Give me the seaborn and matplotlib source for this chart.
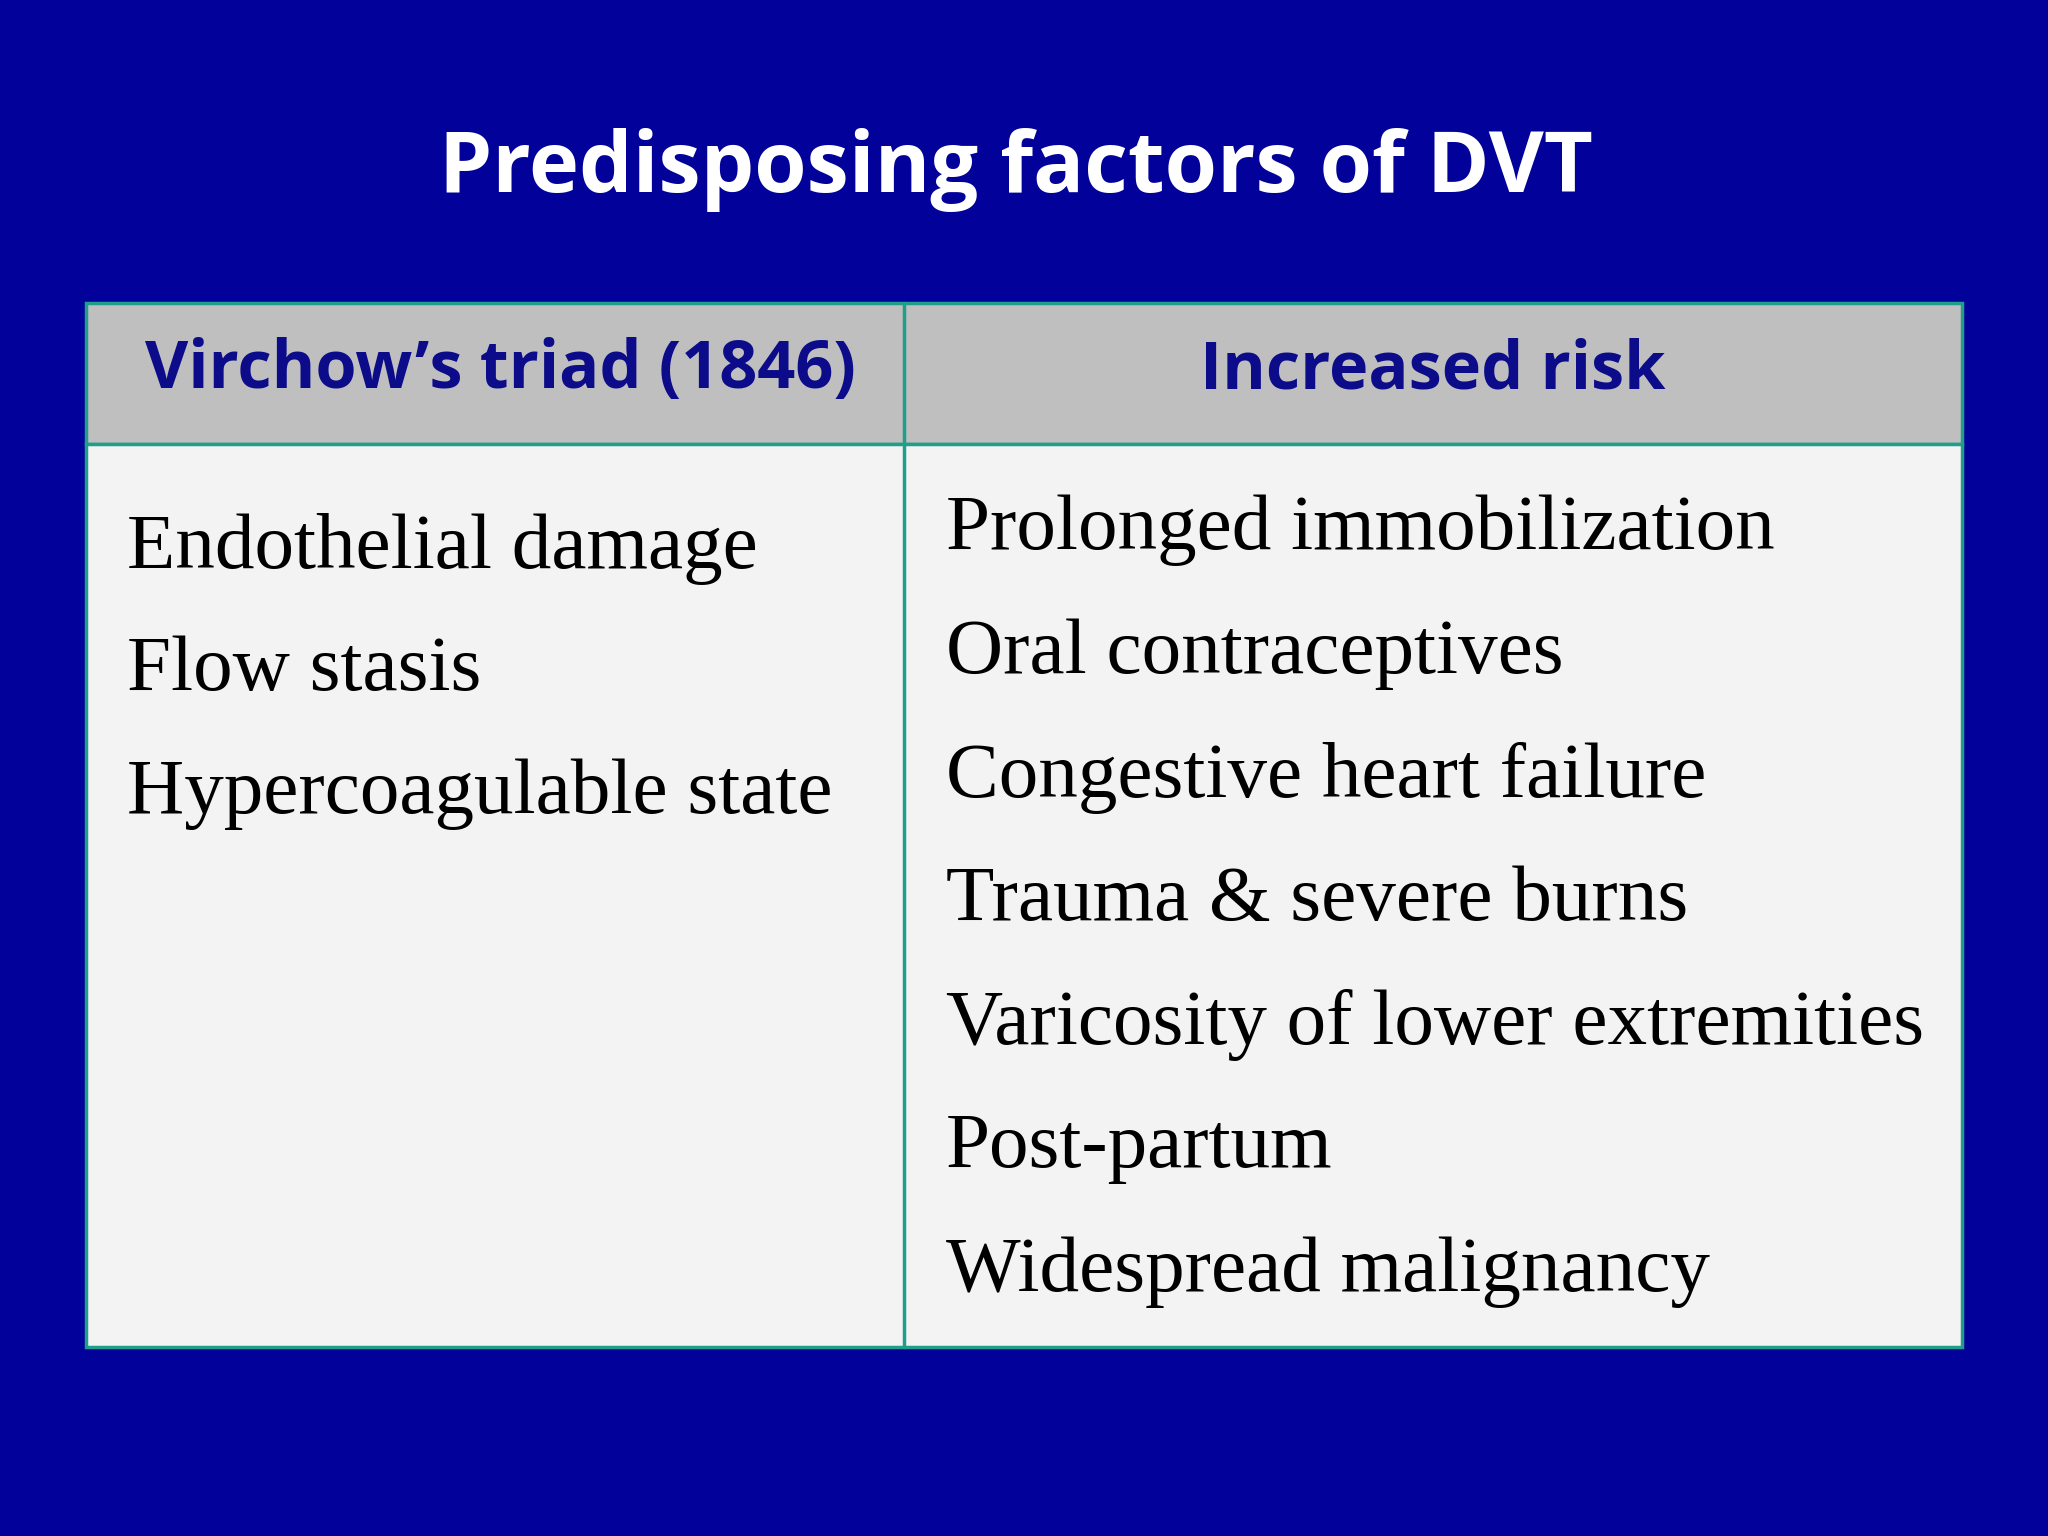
import seaborn as sns
import matplotlib.pyplot as plt
from matplotlib.patches import Rectangle

title = "Predisposing factors of DVT"
headers = ["Virchow\u2019s triad (1846)", "Increased risk"]
left_items = ["Endothelial damage", "Flow stasis", "Hypercoagulable state"]
right_items = ["Prolonged immobilization", "Oral contraceptives",
               "Congestive heart failure", "Trauma & severe burns",
               "Varicosity of lower extremities", "Post-partum",
               "Widespread malignancy"]

sns.set_theme(style="white")
plt.rcParams['font.family'] = ['Open Sans', 'DejaVu Sans']

bg = "#02029a"
fig = plt.figure(figsize=(20.48, 15.36), dpi=100)
fig.patch.set_facecolor(bg)
ax = fig.add_axes([0, 0, 1, 1])
ax.set_xlim(0, 1568)
ax.set_ylim(1176, 0)
ax.axis("off")

border = "#1f9e8a"
x0, xm, x1 = 66, 692, 1502
y0, yh, y1 = 232, 340, 1031
ax.add_patch(Rectangle((x0, y0), x1 - x0, yh - y0, facecolor="#bfbfbf", edgecolor=border, lw=2.5))
ax.add_patch(Rectangle((x0, yh), x1 - x0, y1 - yh, facecolor="#f3f3f3", edgecolor=border, lw=2.5))
ax.plot([xm, xm], [y0, y1], color=border, lw=2.5)

ax.text(778, 130, title, color="white", fontsize=61, fontweight="bold", ha="center", va="center")
ax.text((x0 + xm) / 2 + 4, 284, headers[0], color="#0c0c8a", fontsize=48, fontweight="bold", ha="center", va="center")
ax.text((xm + x1) / 2, 284, headers[1], color="#0c0c8a", fontsize=48, fontweight="bold", ha="center", va="center")

for i, s in enumerate(left_items):
    ax.text(97, 420 + i * 94, s, color="black", fontsize=57, family="Liberation Serif", ha="left", va="center")
for i, s in enumerate(right_items):
    ax.text(724, 406 + i * 94.7, s, color="black", fontsize=57, family="Liberation Serif", ha="left", va="center")

fig.savefig("out.png", dpi=100, facecolor=bg)
